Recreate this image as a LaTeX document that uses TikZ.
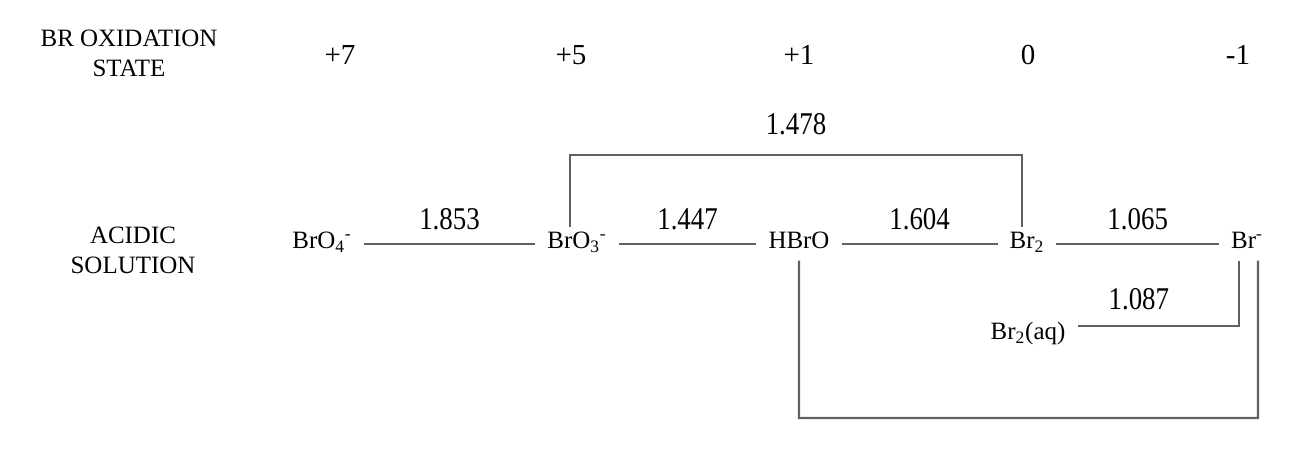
\documentclass[tikz,border=0pt]{standalone}
\usepackage{fontspec}
\setmainfont{Liberation Serif}
\newfontfamily\narrowserif[FakeStretch=0.85]{Liberation Serif}
\definecolor{linegray}{gray}{0.38}
\def\headfont{\fontsize{14.2}{17}\selectfont}
\def\statefont{\fontsize{16.5}{20}\selectfont}
\def\potfont{\narrowserif\fontsize{18}{22}\selectfont}
\tikzstyle{heading}=[align=center,font=\headfont]
\tikzstyle{state}=[font=\statefont]
\tikzstyle{species}=[inner xsep=6.5pt,inner ysep=4pt,text height=0.75em,
                     text depth=0.25em,font=\headfont]
\tikzstyle{potential}=[above=4.3pt,font=\potfont]
\tikzstyle{link}=[draw=linegray,very thick]

\begin{document}
\begin{tikzpicture}[thick]
  \useasboundingbox (0,0) rectangle (26.24,9);
  % row headings
  \node[heading] (oxhead) at (2.58,7.94) {BR OXIDATION\\STATE};
  \node[heading] (acidhead) at (2.66,4.00) {ACIDIC\\SOLUTION};

  % oxidation states
  \node[state] (ox7) at (6.80,7.90) {+7};
  \node[state] (ox5) at (11.42,7.90) {+5};
  \node[state] (ox1) at (15.98,7.90) {+1};
  \node[state] (ox0) at (20.56,7.90) {0};
  \node[state] (oxm1) at (24.76,7.90) {-1};

  % species in acidic solution
  \node[species] (BrO4) at (6.44,4.12) {BrO\textsubscript{4}\textsuperscript{-}};
  \node[species] (BrO3) at (11.54,4.12) {BrO\textsubscript{3}\textsuperscript{-}};
  \node[species] (HBrO) at (15.98,4.12) {HBrO};
  \node[species] (Br2) at (20.54,4.12) {Br\textsubscript{2}};
  \node[species] (Brm) at (24.94,4.12) {Br\textsuperscript{-}};
  \node[species] (Br2aq) at (20.56,2.30) {Br\textsubscript{2}(aq)};

  \path (BrO4) edge[link] node[potential] {1.853} (BrO3);
  \path (BrO3) edge[link] node[potential] {1.447} (HBrO);
  \path (HBrO) edge[link] node[potential] {1.604} (Br2);
  \path (Br2) edge[link] node[potential] {1.065} (Brm);

  % BrO3- to Br2, over the top
  \coordinate (top) at (15.92,5.90);
  \draw[link] ([xshift=-0.14cm]BrO3.north) |- (top) node[potential,above=3.2pt] {1.478}
    -| ([xshift=-0.10cm]Br2.north);

  % Br2(aq) to Br-
  \draw[link] ([yshift=0.18cm]Br2aq.east) -| node[potential,above=1pt,pos=0.19] {1.087}
    ([xshift=-0.16cm]Brm.south);

  % HBrO to Br-, underneath
  \coordinate (bottom) at (25.16,0.64);
  \draw[link] (HBrO.south) |- (bottom) -- ([xshift=0.22cm]Brm.south);

\end{tikzpicture}
\end{document}
